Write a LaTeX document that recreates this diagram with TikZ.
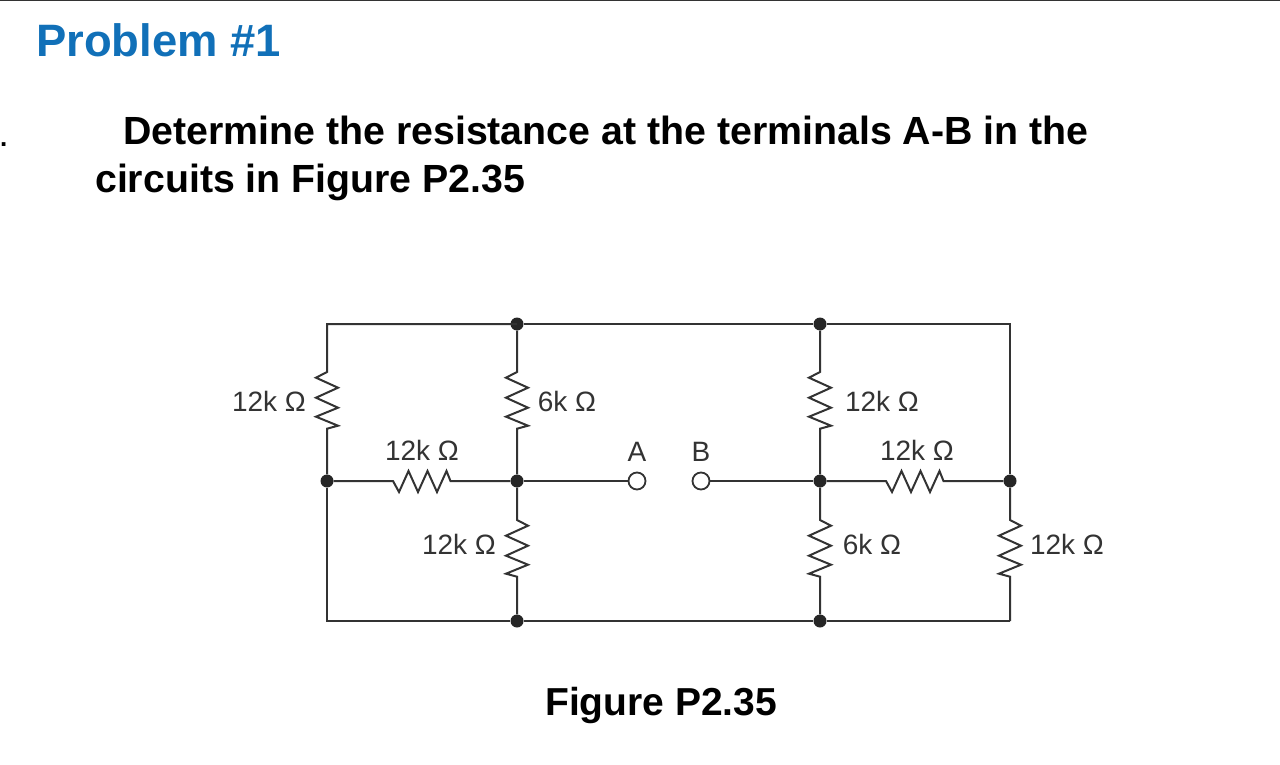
\documentclass[tikz,border=0pt]{standalone}
\usepackage{fontspec}
\setmainfont{Liberation Sans}
\definecolor{titleblue}{HTML}{1170B8}
\definecolor{wire}{HTML}{333333}
\tikzset{
  x=1pt, y=-1pt,
  wireline/.style={draw=wire, line width=2pt, line join=miter},
  joint/.style={circle, fill=black!85, inner sep=0pt, minimum size=13pt},
  term/.style={circle, draw=wire, fill=white, line width=1.8pt, inner sep=0pt, minimum size=17pt},
  lab/.style={text=wire, inner sep=0pt, anchor=base, font=\fontsize{28}{32}\selectfont},
  headtext/.style={inner sep=0pt, anchor=base west, font=\bfseries\fontsize{39.3}{44}\selectfont},
  vres/.style={to path={-- ++(-11*#1,5.7) -- ++(22*#1,10) -- ++(-22*#1,10) -- ++(22*#1,10) -- ++(-22*#1,9) -- ++(22*#1,9) -- ++(-11*#1,3) -- (\tikztotarget)}},
  hres/.style={to path={-- ++(6,11) -- ++(9.5,-21) -- ++(9.5,21) -- ++(9.5,-21) -- ++(9.5,21) -- ++(9.5,-21) -- ++(4,10) -- (\tikztotarget)}},
}
\begin{document}
\begin{tikzpicture}
\useasboundingbox (0,0) rectangle (1280,765);
\fill[black!80] (0,0) rectangle (1280,1.5);
% headings
\node[inner sep=0pt, anchor=base west, text=titleblue, font=\bfseries\fontsize{45.4}{50}\selectfont] (title) at (36,57) {Problem \#1};
\node[inner sep=0pt, anchor=base west, font=\bfseries\fontsize{26}{30}\selectfont] (dot) at (0,147) {.};
\node[headtext] (line1) at (123,145) {Determine the resistance at the terminals A-B in the};
\node[headtext] (line2) at (95,193) {circuits in Figure P2.35};
\node[inner sep=0pt, anchor=base west, font=\bfseries\fontsize{39}{44}\selectfont] (fig) at (545,715) {Figure P2.35};
% corners and resistor ends
\coordinate (tl) at (327,324);
\coordinate (tr) at (1010,324);
\coordinate (bl) at (327,621);
\coordinate (br) at (1010,621);
\coordinate (r1a) at (327,372); \coordinate (r1b) at (327,430);
\coordinate (r2a) at (517,372); \coordinate (r2b) at (517,430);
\coordinate (r3a) at (820,372); \coordinate (r3b) at (820,430);
\coordinate (r4a) at (517,520); \coordinate (r4b) at (517,578);
\coordinate (r5a) at (820,520); \coordinate (r5b) at (820,578);
\coordinate (r6a) at (1010,520); \coordinate (r6b) at (1010,578);
\coordinate (h1a) at (393,481); \coordinate (h1b) at (452,481);
\coordinate (h2a) at (886,481); \coordinate (h2b) at (945,481);
% joints
\node[joint] (t1) at (517,324) {};
\node[joint] (t2) at (820,324) {};
\node[joint] (m1) at (327,481) {};
\node[joint] (m2) at (517,481) {};
\node[joint] (m3) at (820,481) {};
\node[joint] (m4) at (1010,481) {};
\node[joint] (b1) at (517,621) {};
\node[joint] (b2) at (820,621) {};
\node[term] (A) at (637,481) {};
\node[term] (B) at (701,481) {};
% wires
\draw[wireline] (t1.center) -- (tl) -- (r1a) to[vres=1] (r1b) -- (m1);
\draw[wireline] (t1) -- (t2) -- (tr) -- (m4);
\draw[wireline] (t1) -- (r2a) to[vres=1] (r2b) -- (m2);
\draw[wireline] (t2) -- (r3a) to[vres=1] (r3b) -- (m3);
\draw[wireline] (m1) -- (h1a) to[hres] (h1b) -- (m2);
\draw[wireline] (m3) -- (h2a) to[hres] (h2b) -- (m4);
\draw[wireline] (m2) -- (A);
\draw[wireline] (B) -- (m3);
\draw[wireline] (m2) -- (r4a) to[vres=-1] (r4b) -- (b1);
\draw[wireline] (m3) -- (r5a) to[vres=-1] (r5b) -- (b2);
\draw[wireline] (m4) -- (r6a) to[vres=-1] (r6b) -- (br);
\draw[wireline] (m1) -- (bl) -- (b1) -- (b2) -- (br);
% labels
\node[lab] (l1) at (269,411) {12k Ω};
\node[lab] (l2) at (567,411) {6k Ω};
\node[lab] (l3) at (882,411) {12k Ω};
\node[lab] (l4) at (422,460) {12k Ω};
\node[lab] (l5) at (917,460) {12k Ω};
\node[lab] (l6) at (459,554) {12k Ω};
\node[lab] (l7) at (872,554) {6k Ω};
\node[lab] (l8) at (1067,554) {12k Ω};
\node[lab] (la) at (637,461) {A};
\node[lab] (lb) at (701,461) {B};
\end{tikzpicture}
\end{document}
